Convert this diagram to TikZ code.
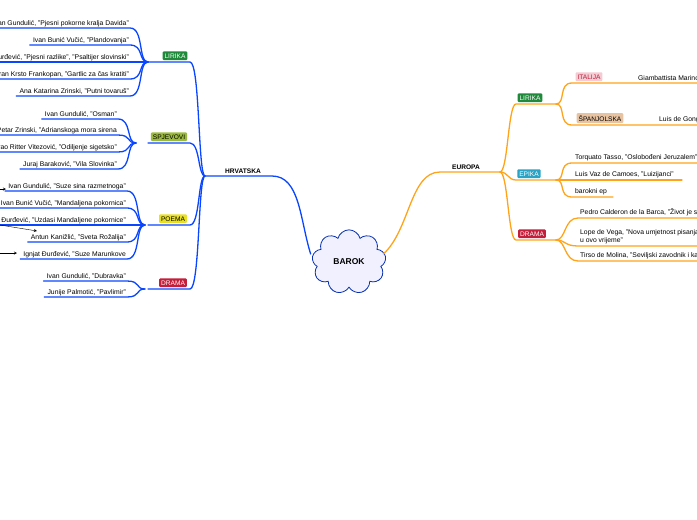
\documentclass[tikz,border=0pt]{standalone}
\usepackage{fontspec}
\setmainfont{Liberation Sans}
\usetikzlibrary{shapes.symbols}
\definecolor{bl}{HTML}{0A46FF}
\definecolor{or}{HTML}{FFA31A}
\definecolor{cgreen}{HTML}{1E8A3A}
\definecolor{colive}{HTML}{9CBB3C}
\definecolor{cyel}{HTML}{E8E022}
\definecolor{cred}{HTML}{C41E3A}
\definecolor{cteal}{HTML}{2AA3C4}
\definecolor{cpink}{HTML}{F2CBD3}
\definecolor{ctan}{HTML}{E8C3A2}
\tikzset{
 br/.style={line width=1.3pt,line cap=round},
 tx/.style={font=\fontsize{6.8}{7.4}\selectfont,inner sep=1pt},
 tag/.style={font=\fontsize{6.6}{7}\selectfont,inner sep=2pt,rounded corners=1pt,anchor=base},
}
\newcommand{\lleaf}[5]{% y xend text catx caty
 \node[tx,anchor=south east] (lt) at (#2,#1) {#3};
 \draw[br,bl] (lt.south west) ++(-2,0) -- (#2,#1) .. controls (#2+14,#1) and (#4-10,#5) .. (#4,#5);}
\newcommand{\rleaf}[5]{%
 \draw[br,or] (#4,#5) .. controls (#4+10,#5) and (#2-14,#1) .. (#2,#1) -- (#3,#1);}
\begin{document}
\begin{tikzpicture}[x=1pt,y=-1pt]
\useasboundingbox (0,0) rectangle (697,520);
\clip (0,0) rectangle (697,520);
\node[cloud,cloud puffs=9,draw=bl!70!black,fill=blue!6,line width=0.8pt,minimum width=74pt,minimum height=40pt,font=\fontsize{8.5}{9}\selectfont\bfseries] (barok) at (349,262) {BAROK};
\coordinate (hub) at (205,176);
\draw[br,bl] (barok.west) ++(-2,-8) .. controls (300,220) and (300,176) .. (272,176) -- (hub);
\node[tx,anchor=south,font=\fontsize{6.6}{7}\selectfont\bfseries] (hr) at (243,175) {HRVATSKA};
\foreach \y in {62,143,225,289}{
 \draw[br,bl] (hub) .. controls (198,176) and (200,\y) .. (190,\y) -- (148,\y);}
\node[tag,fill=cgreen,text=white] (l1) at (175,58) {LIRIKA};
\node[tag,fill=colive] (l2) at (169,139) {SPJEVOVI};
\node[tag,fill=cyel] (l3) at (173,221) {POEMA};
\node[tag,fill=cred,text=white] (l4) at (173,285) {DRAMA};
\lleaf{28}{130}{Ivan Gundulić, "Pjesni pokorne kralja Davida"}{148}{62}
\lleaf{45}{130}{Ivan Bunić Vučić, "Plandovanja"}{148}{62}
\lleaf{62}{130}{Stjepan Đurđević, "Pjesni razlike", "Psaltijer slovinski"}{148}{62}
\lleaf{79}{130}{Fran Krsto Frankopan, "Gartlic za čas kratiti"}{148}{62}
\lleaf{96}{130}{Ana Katarina Zrinski, "Putni tovaruš"}{148}{62}
\lleaf{119}{118}{Ivan Gundulić, "Osman"}{136}{143}
\lleaf{135}{118}{Petar Zrinski, "Adrianskoga mora sirena}{136}{143}
\lleaf{152}{118}{Pavao Ritter Vitezović, "Odiljenje sigetsko"}{136}{143}
\lleaf{169}{118}{Juraj Baraković, "Vila Slovinka"}{136}{143}
\lleaf{191}{127}{Ivan Gundulić, "Suze sina razmetnoga"}{145}{225}
\lleaf{208}{127}{Ivan Bunić Vučić, "Mandaljena pokornica"}{145}{225}
\lleaf{225}{127}{Ignjat Đurđević, "Uzdasi Mandaljene pokornice"}{145}{225}
\lleaf{242}{127}{Antun Kanižlić, "Sveta Rožalija"}{145}{225}
\lleaf{259}{127}{Ignjat Đurđević, "Suze Marunkove}{145}{225}
\lleaf{281}{127}{Ivan Gundulić, "Dubravka"}{145}{289}
\lleaf{297}{127}{Junije Palmotić, "Pavlimir"}{145}{289}
\draw[->,>=stealth,thin] (0,225) -- (37,231);
\draw[->,>=stealth,thin] (0,253) -- (17,253);
\draw[->,>=stealth,thin] (0,189) -- (6,189);
\coordinate (ehub) at (500,172);
\draw[br,or] (barok.east) ++(-2,-8) .. controls (410,230) and (410,172) .. (440,172) -- (ehub);
\node[tx,anchor=south,font=\fontsize{6.6}{7}\selectfont\bfseries] (eu) at (466,171) {EUROPA};
\foreach \y in {104,180,240}{
 \draw[br,or] (ehub) .. controls (508,172) and (508,\y) .. (516,\y) -- (556,\y);}
\node[tag,fill=cgreen,text=white] (r1) at (530,100) {LIRIKA};
\node[tag,fill=cteal,text=white] (r2) at (529,176) {EPIKA};
\node[tag,fill=cred,text=white] (r3) at (532,236) {DRAMA};
\rleaf{83}{572}{700}{556}{104}
\rleaf{125}{572}{700}{556}{104}
\node[tag,fill=cpink,text=cred] (it) at (589,79) {ITALIJA};
\node[tag,fill=ctan] (sp) at (600,121) {ŠPANJOLSKA};
\node[tx,anchor=south west] at (637,82) {Giambattista Marino};
\node[tx,anchor=south west] at (658,124) {Luis de Gongora};
\rleaf{163}{572}{700}{556}{180}
\rleaf{180}{572}{682}{556}{180}
\rleaf{197}{572}{613}{556}{180}
\node[tx,anchor=south west] at (574,162) {Torquato Tasso, "Oslobođeni Jeruzalem"};
\node[tx,anchor=south west] at (574,179) {Luis Vaz de Camoes, "Luizijanci"};
\node[tx,anchor=south west] at (574,196) {barokni ep};
\rleaf{218}{578}{700}{556}{240}
\rleaf{246}{578}{700}{556}{240}
\rleaf{261}{578}{700}{556}{240}
\node[tx,anchor=south west] at (579,217) {Pedro Calderon de la Barca, "Život je san"};
\node[tx,anchor=south west,align=left] at (579,245) {Lope de Vega, "Nova umjetnost pisanja komedija\\u ovo vrijeme"};
\node[tx,anchor=south west] at (579,260) {Tirso de Molina, "Seviljski zavodnik i kameni gost"};
\end{tikzpicture}
\end{document}
